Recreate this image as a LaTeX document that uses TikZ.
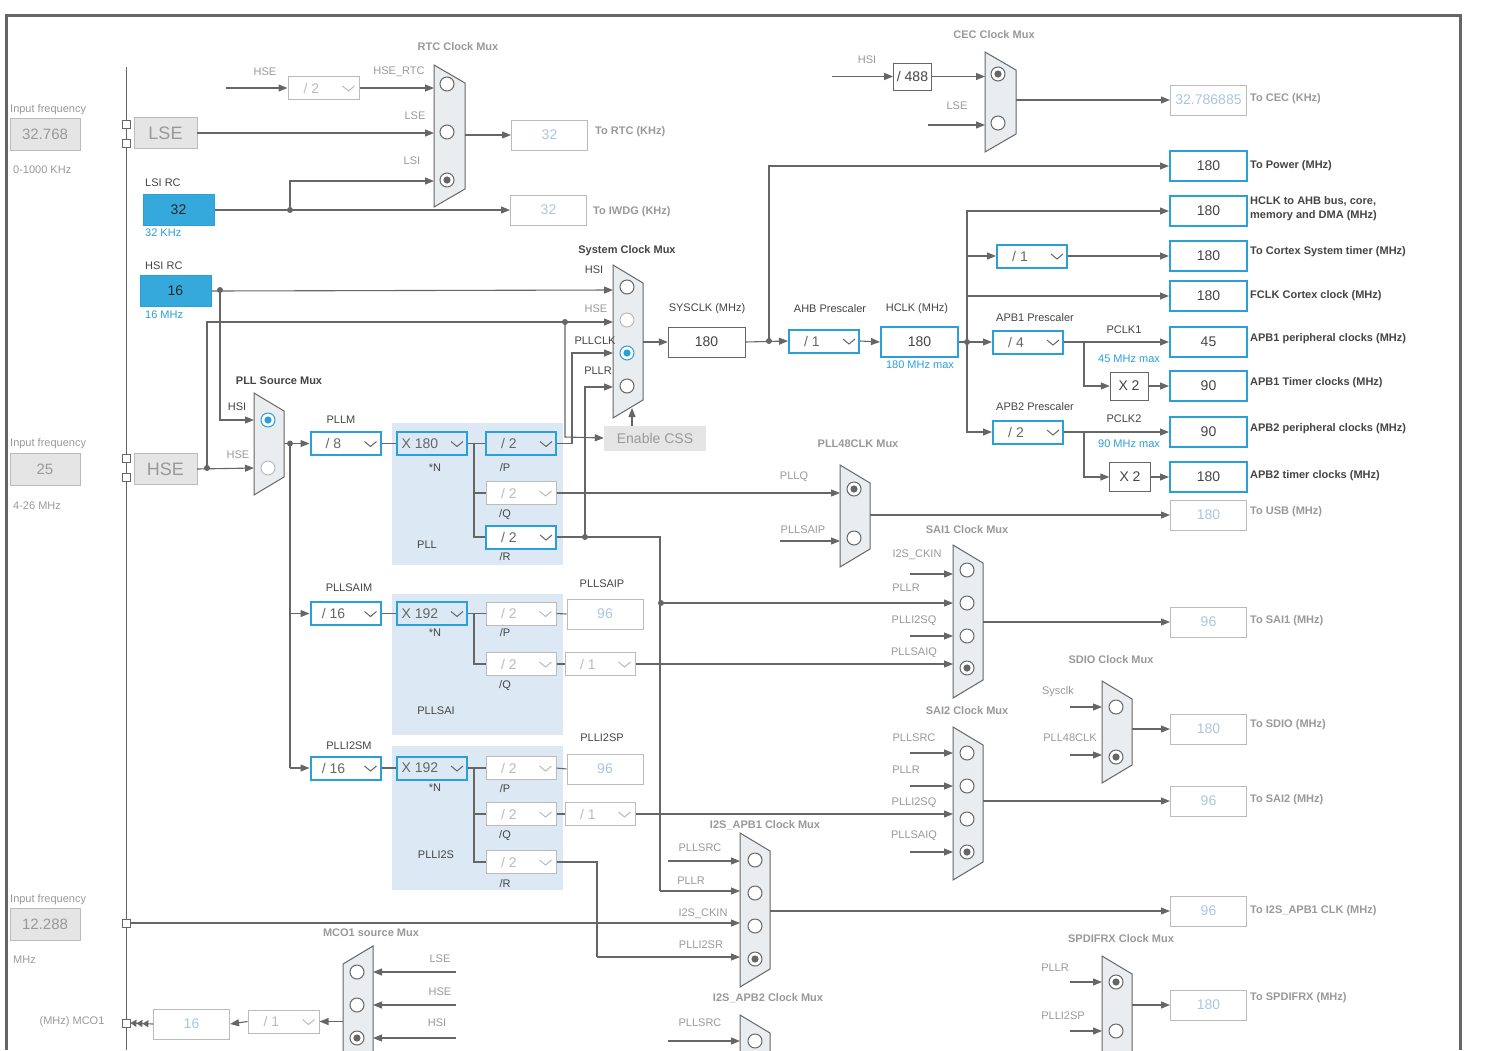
\documentclass[tikz,border=0pt]{standalone}
\usepackage{fontspec}\setmainfont{Liberation Sans}
\usetikzlibrary{arrows.meta,calc}
\definecolor{ln}{HTML}{666666}\definecolor{bb}{HTML}{2B9FD9}\definecolor{bf}{HTML}{35A8DC}
\definecolor{rg}{HTML}{DCE9F5}\definecolor{tx}{HTML}{444444}\definecolor{tl}{HTML}{999999}
\definecolor{lb}{HTML}{A9C6E0}\definecolor{mf}{HTML}{E9EDF0}\definecolor{gl}{HTML}{BBBBBB}
\newcommand\dd[6]{\node[#5,minimum width=#3pt,minimum height=23pt] (#1) at (#2) {};
 \node[text=#6,font=\fontsize{14}{14}\selectfont] at ($(#1.center)+(-12,0)$) {#4};
 \draw[#6,line width=1pt] ($(#1.east)+(-17,-2)$)--++(6,5)--++(6,-5);}
\newcommand\mux[4]{\draw[draw=ln,fill=mf,line width=1pt] (#1,#3)--(#2,{#3+18})--(#2,{#4-18})--(#1,#4)--cycle;}
\newcommand\muxr[4]{\draw[draw=ln,fill=mf,line width=1pt] (#2,#3)--(#1,{#3+18})--(#1,{#4-18})--(#2,#4)--cycle;}
\newcommand\rb[2]{\draw[ln,fill=white,line width=1pt] (#1,#2) circle (7);}
\newcommand\rs[2]{\draw[ln,fill=white,line width=1pt] (#1,#2) circle (7);\fill[ln] (#1,#2) circle (3.6);}
\newcommand\rbl[2]{\draw[bb,fill=white,line width=1pt] (#1,#2) circle (7);\fill[bb] (#1,#2) circle (3.6);}
\newcommand\dt[2]{\fill[ln] (#1,#2) circle (3);}
\begin{document}
\begin{tikzpicture}[x=1pt,y=-1pt,font=\fontsize{11}{12}\selectfont,
 w/.style={draw=ln,line width=1.1pt},
 a/.style={w,-{Triangle[length=9pt,width=7pt]}},
 l/.style={text=tl,inner sep=0},
 ld/.style={text=tx,inner sep=0},
 lbl/.style={text=bb,inner sep=0},
 tt/.style={text=tl,inner sep=0,font=\bfseries\fontsize{11}{12}\selectfont},
 ro/.style={anchor=west,inner sep=0,text=tx,font=\bfseries\fontsize{11}{12}\selectfont},
 rog/.style={ro,text=tl},
 ob/.style={draw=bb,line width=2pt,minimum width=77pt,minimum height=30pt,text=tx,font=\fontsize{14}{14}\selectfont},
 og/.style={draw=gl,line width=1pt,minimum width=76pt,minimum height=30pt,text=lb,font=\fontsize{14}{14}\selectfont},
 ddb/.style={draw=bb,line width=2pt},
 ddg/.style={draw=gl,line width=1pt},
 inf/.style={draw=gl,fill=black!10,minimum width=70pt,minimum height=32pt,text=tl,font=\fontsize{15}{15}\selectfont},
 src/.style={draw=gl,fill=black!10,minimum width=63pt,minimum height=31pt,text=tl,font=\fontsize{18}{18}\selectfont},
 rc/.style={draw=bb,fill=bf,line width=1pt,minimum width=71pt,minimum height=31pt,text=black!85,font=\fontsize{14}{14}\selectfont},
 sq/.style={draw=ln,fill=white,minimum size=8pt,inner sep=0,line width=0.8pt}]
\useasboundingbox (0,0) rectangle (1485,1050);
\draw[line width=3pt,draw=black!60] (6,1050)--(6,15)--(1460,15)--(1460,1050);
\draw[draw=ln,line width=1pt] (126,67)--(126,1050);
% left inputs
\node[l,anchor=west] at (10,110){Input frequency};
\node[inf] (f1) at (45,134){32.768};
\node[l,anchor=west] at (13,170){0-1000 KHz};
\node[src] (lse) at (165.5,133){LSE};
\node[sq] at (126,124){};\node[sq] at (126,143){};
\node[ld,anchor=west] at (145,183){LSI RC};
\node[rc] (lsi) at (178.5,210){32};
\node[lbl,anchor=west] at (145,233){32 KHz};
\node[ld,anchor=west] at (145,266){HSI RC};
\node[rc] (hsi) at (175.5,291){16};
\node[lbl,anchor=west] at (145,315){16 MHz};
\node[l,anchor=west] at (10,444){Input frequency};
\node[inf] (f2) at (45,469){25};
\node[l,anchor=west] at (13,506){4-26 MHz};
\node[src] (hse) at (165.5,469){HSE};
\node[sq] at (126,458){};\node[sq] at (126,477){};
\node[l,anchor=west] at (10,900){Input frequency};
\node[inf] (f3) at (45,924){12.288};
\node[l,anchor=west] at (13,960){MHz};
% RTC
\node[tt] at (458,47){RTC Clock Mux};
\mux{434}{465}{65}{207}
\rb{447}{84}\rb{447}{132}\rs{447}{180}
\node[l] at (265,72){HSE};
\dd{rtcd}{323.5,88}{71}{/ 2}{ddg}{gl}
\draw[a] (226,88)--(rtcd.west);
\draw[a] (rtcd.east)--(434,88);
\node[l] at (399,72){HSE\_RTC};
\node[l] at (415,116){LSE};\node[l] at (412,161){LSI};
\draw[a] (lse.east)--(434,133);
\node[og] (rtc) at (549.5,135){32};
\draw[a] (465,135)--(rtc.west);
\node[rog] at (595,132){To RTC (KHz)};
\node[og] (iwdg) at (548.5,210){32};
\draw[a] (lsi.east)--(iwdg.west);
\node[rog] at (593,212){To IWDG (KHz)};
\dt{290}{210}\draw[a] (290,210)--(290,181)--(434,181);
% CEC
\node[tt] at (994,35){CEC Clock Mux};
\mux{985}{1016}{52}{152}
\rs{998}{74}\rb{998}{123}
\node[l] at (867,60){HSI};\node[l] at (957,106){LSE};
\node[draw=ln,line width=1pt,minimum width=37pt,minimum height=27pt,text=tx,font=\fontsize{14}{14}\selectfont] (cecd) at (912.5,76.5){/ 488};
\draw[a] (832,76.5)--(cecd.west);\draw[a] (cecd.east)--(985,76.5);
\draw[a] (928,125)--(985,125);
\node[og] (cec) at (1208.5,100){32.786885};
\draw[a] (1016,100)--(cec.west);
\node[rog] at (1250,99){To CEC (KHz)};
% System mux
\node[tt,text=tx] at (627,251){System Clock Mux};
\mux{613}{643}{265}{418}
\rb{627}{287}\draw[gl,fill=white,line width=1pt] (627,320) circle (7);\rbl{627}{353}\rb{627}{386}
\node[ld] at (594,270){HSI};\node[l] at (596,309){HSE};\node[ld] at (595,341){PLLCLK};\node[ld] at (598,371){PLLR};
\draw[a] (hsi.east)--(613,290);\dt{220}{290}
\draw[a] (hse.east)--(254,468);\dt{207}{468}
\draw[a] (207,468)--(207,322)--(613,322);
\draw[a] (220,290)--(220,420)--(254,420);
\node[fill=black!10,minimum width=102pt,minimum height=25pt,text=tl,font=\fontsize{14}{14}\selectfont] (css) at (655,438){Enable CSS};
\dt{565}{322}\draw[a] (565,322)--(565,437)--(css.west);
\draw[a] (632,426)--(632,408);
\node[draw=ln,minimum width=77pt,minimum height=30pt,text=tx,font=\fontsize{14}{14}\selectfont] (sys) at (706.5,342){180};
\node[ld] at (707,309){SYSCLK (MHz)};
\draw[a] (643,342)--(sys.west);
\dd{ahb}{824,341}{70}{/ 1}{ddb}{ln}
\node[ld] at (830,309){AHB Prescaler};
\draw[a] (sys.east)--(ahb.west);\dt{769}{341}
\node[ob] (power) at (1208.5,166){180};
\draw[a] (769,341)--(769,166)--(power.west);
\node[ob] (hclk) at (919.5,342){180};
\node[ld] at (917,309){HCLK (MHz)};
\node[lbl] at (920,365){180 MHz max};
\draw[a] (ahb.east)--(hclk.west);
\dd{apb1}{1028,342}{70}{/ 4}{ddb}{ln}
\dd{apb2}{1028,432}{70}{/ 2}{ddb}{ln}
\dd{cdiv}{1032,256}{70}{/ 1}{ddb}{ln}
\node[ld] at (1035,318){APB1 Prescaler};\node[ld] at (1035,407){APB2 Prescaler};
\draw[a] (hclk.east)--(apb1.west);\dt{967}{342}
\node[ob] (ahbbus) at (1208.5,211){180};
\node[ob] (cortex) at (1208.5,256){180};
\node[ob] (fclk) at (1208.5,296){180};
\draw[a] (967,342)--(967,211)--(ahbbus.west);
\draw[a] (967,256)--(cdiv.west);\draw[a] (cdiv.east)--(cortex.west);
\draw[a] (967,296)--(fclk.west);
\draw[a] (967,342)--(967,432)--(apb2.west);
\node[ob] (apb1p) at (1208.5,342){45};
\node[ob] (apb1t) at (1208.5,386){90};
\node[ob] (apb2p) at (1208.5,432){90};
\node[ob] (apb2t) at (1208.5,477){180};
\node[draw=ln,minimum width=38pt,minimum height=28pt,text=tx,font=\fontsize{14}{14}\selectfont] (x2a) at (1129,386){X 2};
\node[draw=ln,minimum width=41pt,minimum height=29pt,text=tx,font=\fontsize{14}{14}\selectfont] (x2b) at (1130,477){X 2};
\draw[a] (apb1.east)--(apb1p.west);\draw[a] (1084,342)--(1084,386)--(x2a.west);\draw[a] (x2a.east)--(apb1t.west);
\draw[a] (apb2.east)--(apb2p.west);\draw[a] (1084,432)--(1084,477)--(x2b.west);\draw[a] (x2b.east)--(apb2t.west);
\node[ld] at (1124,330){PCLK1};\node[lbl] at (1129,359){45 MHz max};
\node[ld] at (1124,419){PCLK2};\node[lbl] at (1129,444){90 MHz max};
\node[ro] at (1250,166){To Power (MHz)};
\node[ro] at (1250,201){HCLK to AHB bus, core,};
\node[ro] at (1250,216){memory and DMA (MHz)};
\node[ro] at (1250,252){To Cortex System timer (MHz)};
\node[ro] at (1250,296){FCLK Cortex clock (MHz)};
\node[ro] at (1250,339){APB1 peripheral clocks (MHz)};
\node[ro] at (1250,383){APB1 Timer clocks (MHz)};
\node[ro] at (1250,429){APB2 peripheral clocks (MHz)};
\node[ro] at (1250,476){APB2 timer clocks (MHz)};
% PLL source mux
\node[tt,text=tx] at (279,381){PLL Source Mux};
\mux{254}{284}{393}{495}
\rbl{268}{420}\draw[gl,fill=white,line width=1pt] (268,468) circle (7);
\node[ld] at (237,407){HSI};\node[l] at (238,455){HSE};
\dd{pllm}{345.5,443.5}{70}{/ 8}{ddb}{ln}
\node[ld] at (341,420){PLLM};
\draw[w] (284,443.5)--(290,443.5);\dt{290}{443.5}
\draw[a] (290,443.5)--(pllm.west);
\draw[w] (290,443.5)--(290,768);
% PLL
\fill[rg] (392,423) rectangle (563,565);
\dd{plln}{432,443.5}{70}{X 180}{ddb}{ln}
\dd{pllp}{521,443.5}{70}{/ 2}{ddb}{ln}
\dd{pllq}{521,493}{70}{/ 2}{ddg,fill=white}{gl}
\dd{pllr}{521,537}{70}{/ 2}{ddb,fill=white}{ln}
\node[ld] at (435,468){*N};\node[ld] at (505,468){/P};\node[ld] at (505,515){/Q};\node[ld] at (505,557){/R};
\node[ld] at (427,545){PLL};
\draw[w] (pllm.east)--(plln.west);\draw[w] (plln.east)--(pllp.west);
\draw[w] (474,443.5)--(474,537)--(pllr.west);\draw[w] (474,493)--(pllq.west);
\draw[a] (pllp.east)--(572,443.5)--(572,353)--(613,353);
\dt{585}{537}\draw[a] (585,537)--(585,387)--(613,387);
% PLL48
\node[tt] at (858,444){PLL48CLK Mux};
\mux{840}{870}{465}{567}
\rs{854}{489}\rb{854}{538}
\node[l] at (794,477){PLLQ};\node[l] at (803,530){PLLSAIP};
\draw[a] (pllq.east)--(840,493);
\draw[a] (780,541)--(840,541);
\node[og] (usb) at (1208.5,515){180};
\draw[a] (870,515)--(usb.west);
\node[rog] at (1250,512){To USB (MHz)};
% PLLSAI
\fill[rg] (392,594) rectangle (563,735);
\dd{saim}{345.5,613.5}{70}{/ 16}{ddb}{ln}
\node[ld] at (349,588){PLLSAIM};
\draw[a] (290,613.5)--(saim.west);
\dd{sain}{432,613.5}{70}{X 192}{ddb}{ln}
\dd{saip}{521,613.5}{70}{/ 2}{ddg,fill=white}{gl}
\dd{saiq}{521,664}{70}{/ 2}{ddg,fill=white}{gl}
\node[ld] at (435,633){*N};\node[ld] at (505,633){/P};\node[ld] at (505,686){/Q};\node[ld] at (436,711){PLLSAI};
\draw[w] (saim.east)--(sain.west);\draw[w] (sain.east)--(saip.west);\draw[w] (474,613.5)--(474,664)--(saiq.west);
\node[og] (saipb) at (605,614){96};\node[ld] at (602,584){PLLSAIP};
\draw[w] (saip.east)--(saipb.west);
\dd{saiq1}{600,664}{70}{/ 1}{ddg}{gl}
\draw[w] (saiq.east)--(saiq1.west);
\draw[a] (saiq1.east)--(953,664);
\draw[w] (pllr.east)--(660,537)--(660,891);
\draw[a] (660,891)--(740,891);
\dt{661}{603}\draw[a] (661,603)--(953,603);
% SAI1
\node[tt] at (967,530){SAI1 Clock Mux};
\mux{953}{983}{545}{698}
\rb{967}{570}\rb{967}{603}\rb{967}{636}\rs{967}{668}
\node[l] at (917,555){I2S\_CKIN};\node[l] at (906,588){PLLR};\node[l] at (914,621){PLLI2SQ};\node[l] at (914,653){PLLSAIQ};
\draw[a] (910,574)--(953,574);\draw[a] (910,636)--(953,636);
\node[og] (sai1) at (1208.5,622){96};
\draw[a] (983,622)--(sai1.west);
\node[rog] at (1250,621){To SAI1 (MHz)};
% PLLI2S
\fill[rg] (392,746) rectangle (563,890);
\dd{i2sm}{345.5,768}{70}{/ 16}{ddb}{ln}
\node[ld] at (349,746){PLLI2SM};
\draw[a] (290,768)--(i2sm.west);
\dd{i2sn}{432,768}{70}{X 192}{ddb}{ln}
\dd{i2sp}{521,768}{70}{/ 2}{ddg,fill=white}{gl}
\dd{i2sq}{521,814}{70}{/ 2}{ddg,fill=white}{gl}
\dd{i2sr}{521,862}{70}{/ 2}{ddg,fill=white}{gl}
\node[ld] at (435,788){*N};\node[ld] at (505,789){/P};\node[ld] at (505,836){/Q};\node[ld] at (505,884){/R};\node[ld] at (436,855){PLLI2S};
\draw[w] (i2sm.east)--(i2sn.west);\draw[w] (i2sn.east)--(i2sp.west);\draw[w] (474,768)--(474,862)--(i2sr.west);\draw[w] (474,814)--(i2sq.west);
\node[og] (i2spb) at (605,769){96};\node[ld] at (602,738){PLLI2SP};
\draw[w] (i2sp.east)--(i2spb.west);
\dd{i2sq1}{600,814}{70}{/ 1}{ddg}{gl}
\draw[w] (i2sq.east)--(i2sq1.west);
\draw[a] (i2sq1.east)--(953,814);
\draw[w] (i2sr.east)--(597,862)--(597,957);\draw[a] (597,957)--(740,957);
% SAI2
\node[tt] at (967,711){SAI2 Clock Mux};
\mux{953}{983}{727}{880}
\rb{967}{753}\rb{967}{786}\rb{967}{819}\rs{967}{852}
\node[l] at (914,738){PLLSRC};\node[l] at (906,770){PLLR};\node[l] at (914,803){PLLI2SQ};\node[l] at (914,836){PLLSAIQ};
\draw[a] (910,753)--(953,753);\draw[a] (910,786)--(953,786);\draw[a] (910,852)--(953,852);
\node[og] (sai2) at (1208.5,801){96};
\draw[a] (983,801)--(sai2.west);
\node[rog] at (1250,800){To SAI2 (MHz)};
% SDIO
\node[tt] at (1111,660){SDIO Clock Mux};
\mux{1102}{1132}{681}{783}
\rb{1116}{707}\rs{1116}{757}
\node[l] at (1058,692){Sysclk};\node[l] at (1070,738){PLL48CLK};
\draw[a] (1070,707)--(1102,707);\draw[a] (1070,755)--(1102,755);
\node[og] (sdio) at (1208.5,729){180};
\draw[a] (1132,729)--(sdio.west);
\node[rog] at (1250,725){To SDIO (MHz)};
% I2S APB1
\node[tt] at (765,825){I2S\_APB1 Clock Mux};
\mux{740}{770}{833}{987}
\rb{755}{860}\rb{755}{893}\rb{755}{926}\rs{755}{959}
\node[l] at (700,848){PLLSRC};\node[l] at (691,881){PLLR};\node[l] at (703,914){I2S\_CKIN};\node[l] at (701,945){PLLI2SR};
\draw[a] (668,861)--(740,861);
\node[sq] (ck) at (126,923){};
\draw[a] (ck.east)--(740,923);
\node[og] (i2s1) at (1208.5,911){96};
\draw[a] (770,911)--(i2s1.west);
\node[rog] at (1250,911){To I2S\_APB1 CLK (MHz)};
% I2S APB2
\node[tt] at (768,998){I2S\_APB2 Clock Mux};
\mux{740}{770}{1015}{1117}
\rb{755}{1041}
\node[l] at (700,1023){PLLSRC};
\draw[a] (668,1041)--(740,1041);
% SPDIFRX
\node[tt] at (1121,939){SPDIFRX Clock Mux};
\mux{1102}{1132}{956}{1070}
\rs{1116}{982}\rb{1116}{1031}
\node[l] at (1055,968){PLLR};\node[l] at (1063,1016){PLLI2SP};
\draw[a] (1070,982)--(1102,982);\draw[a] (1070,1031)--(1102,1031);
\node[og] (spd) at (1208.5,1005){180};
\draw[a] (1132,1005)--(spd.west);
\node[rog] at (1250,998){To SPDIFRX (MHz)};
% MCO1
\node[tt] at (371,933){MCO1 source Mux};
\muxr{343}{373}{946}{1120}
\rb{357}{972}\rb{357}{1005}\rs{357}{1038}
\node[l] at (440,959){LSE};\node[l] at (440,992){HSE};\node[l] at (437,1023){HSI};
\draw[a] (456,972)--(373,972);\draw[a] (456,1005)--(373,1005);\draw[a] (456,1038)--(373,1038);
\dd{mcod}{283.5,1021.5}{71}{/ 1}{ddg}{gl}
\draw[a] (343,1021.5)--(mcod.east);
\node[og] (mcob) at (191.5,1024){16};
\draw[a] (mcod.west)--(mcob.east);
\node[sq] (mco) at (126,1023){};
\draw[w,-{Triangle[length=6pt,width=7pt]Triangle[length=6pt,width=7pt]Triangle[length=6pt,width=7pt]}] (mcob.west)--(mco.east);
\node[l] at (72,1022){(MHz) MCO1};
\end{tikzpicture}
\end{document}
